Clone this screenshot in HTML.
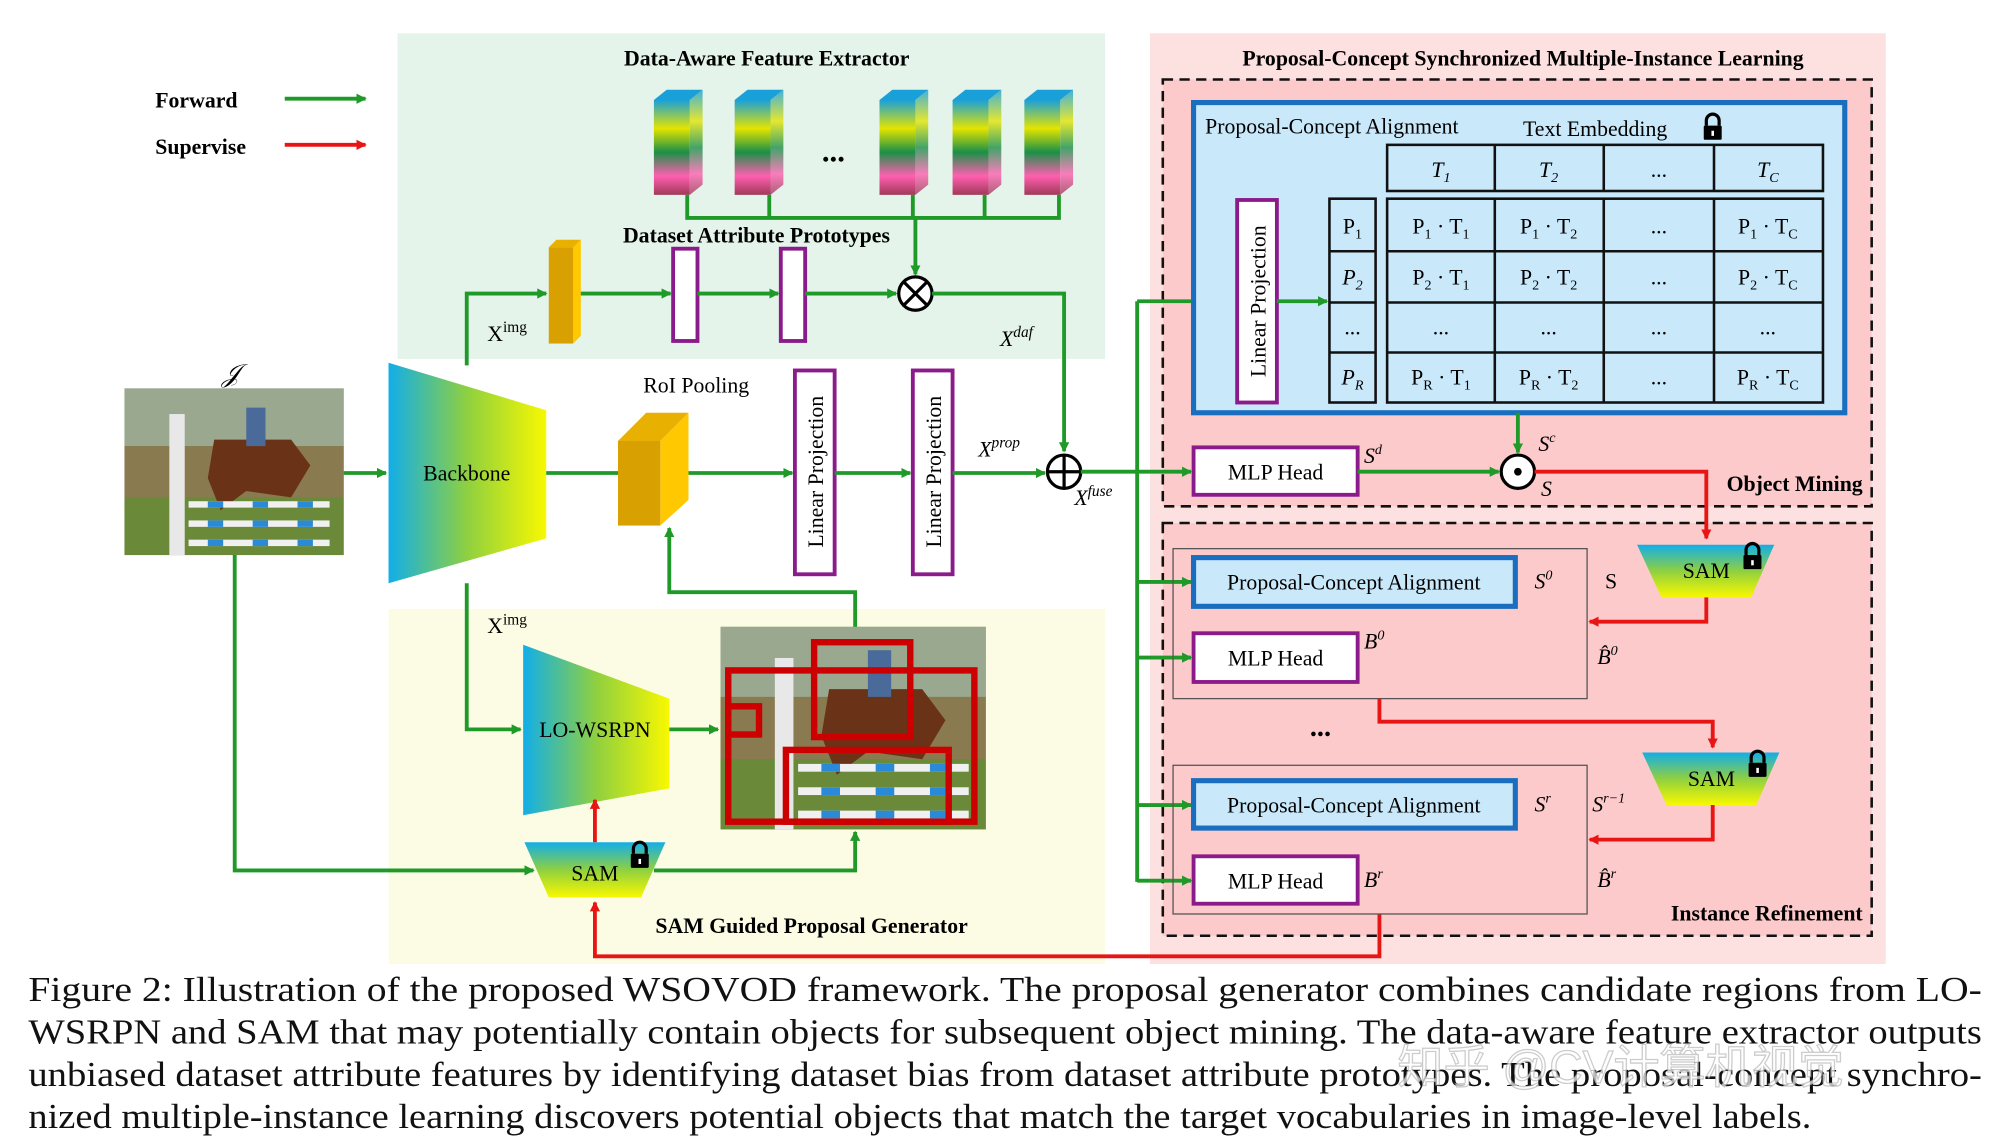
<!DOCTYPE html>
<html><head><meta charset="utf-8"><style>
html,body{margin:0;padding:0;background:#fff;}
svg{display:block;}
text{font-family:"Liberation Serif",serif;}
.b{font-weight:bold;}
</style></head><body>
<svg width="2000" height="1146" viewBox="0 0 1560 894" xmlns="http://www.w3.org/2000/svg">
<defs>
<marker id="ga" markerWidth="8" markerHeight="8" refX="7" refY="4" orient="auto" markerUnits="userSpaceOnUse"><path d="M0,0 L8,4 L0,8 z" fill="#1f9a28"/></marker>
<marker id="ra" markerWidth="8" markerHeight="8" refX="7" refY="4" orient="auto" markerUnits="userSpaceOnUse"><path d="M0,0 L8,4 L0,8 z" fill="#e81515"/></marker>
<linearGradient id="hg" x1="0" y1="0" x2="1" y2="0"><stop offset="0" stop-color="#12aee8"/><stop offset="0.5" stop-color="#8fd040"/><stop offset="1" stop-color="#f8f800"/></linearGradient>
<linearGradient id="vg" x1="0" y1="0" x2="0" y2="1"><stop offset="0" stop-color="#12aee8"/><stop offset="0.5" stop-color="#8fd040"/><stop offset="1" stop-color="#f8f800"/></linearGradient>
<linearGradient id="cg" x1="0" y1="0" x2="0" y2="1"><stop offset="0" stop-color="#1aa0d8"/><stop offset="0.3" stop-color="#e4e400"/><stop offset="0.55" stop-color="#1a9048"/><stop offset="0.8" stop-color="#ff5fb0"/><stop offset="1" stop-color="#a03a5a"/></linearGradient>
<g id="lock"><path d="M-5,-2 v-4 a5,5 0 0 1 10,0 v4" fill="none" stroke="#000" stroke-width="2.5"/><rect x="-7" y="-2" width="14" height="11" rx="1" fill="#000"/><rect x="-1" y="2" width="2" height="4" fill="#fff"/></g>
<g id="photo">
<rect x="0" y="0" width="171" height="130" fill="#6e8a4a"/>
<rect x="0" y="0" width="171" height="45" fill="#9aa890"/>
<rect x="0" y="45" width="171" height="40" fill="#8a7a50"/>
<rect x="0" y="85" width="171" height="45" fill="#6a8a3a"/>
<rect x="35" y="20" width="12" height="110" fill="#e8e8e8"/>
<path d="M70,40 L130,40 L145,60 L130,85 L95,80 L75,95 L65,70 z" fill="#6a3318"/>
<rect x="95" y="15" width="15" height="30" fill="#4a6a9a"/>
<rect x="50" y="88" width="110" height="5" fill="#f0f0f0"/><rect x="65" y="88" width="12" height="5" fill="#2a8ad8"/><rect x="100" y="88" width="12" height="5" fill="#2a8ad8"/><rect x="135" y="88" width="12" height="5" fill="#2a8ad8"/>
<rect x="50" y="103" width="110" height="5" fill="#f0f0f0"/><rect x="65" y="103" width="12" height="5" fill="#2a8ad8"/><rect x="100" y="103" width="12" height="5" fill="#2a8ad8"/><rect x="135" y="103" width="12" height="5" fill="#2a8ad8"/>
<rect x="50" y="118" width="110" height="5" fill="#f0f0f0"/><rect x="65" y="118" width="12" height="5" fill="#2a8ad8"/><rect x="100" y="118" width="12" height="5" fill="#2a8ad8"/><rect x="135" y="118" width="12" height="5" fill="#2a8ad8"/>
</g>
</defs>

<rect x="310" y="26" width="552" height="254" fill="#e4f4ea"/>
<rect x="303" y="475" width="559" height="277" fill="#fcfce4"/>
<rect x="897" y="26" width="574" height="726" fill="#fde0e0"/>
<rect x="907" y="62" width="553" height="333" fill="#fccaca" stroke="#111" stroke-width="2" stroke-dasharray="8,5"/>
<rect x="907" y="408" width="553" height="322" fill="#fccaca" stroke="#111" stroke-width="2" stroke-dasharray="8,5"/>

<text x="121" y="84" font-size="17" class="b">Forward</text>
<line x1="222" y1="77" x2="285" y2="77" stroke="#1f9a28" stroke-width="3" marker-end="url(#ga)"/>
<text x="121" y="120" font-size="17" class="b">Supervise</text>
<line x1="222" y1="113" x2="285" y2="113" stroke="#e81515" stroke-width="3" marker-end="url(#ra)"/>

<text x="598" y="51" font-size="17" class="b" text-anchor="middle">Data-Aware Feature Extractor</text>
<text x="1188" y="51" font-size="17" class="b" text-anchor="middle">Proposal-Concept Synchronized Multiple-Instance Learning</text>

<g>
<g transform="translate(510,0)"><path d="M0,78 L10,70 L38,70 L28,78z" fill="#1aa0d8"/><path d="M28,78 L38,70 L38,144 L28,152z" fill="url(#cg)" opacity="0.8"/><rect x="0" y="78" width="28" height="74" fill="url(#cg)"/></g>
<g transform="translate(573,0)"><path d="M0,78 L10,70 L38,70 L28,78z" fill="#1aa0d8"/><path d="M28,78 L38,70 L38,144 L28,152z" fill="url(#cg)" opacity="0.8"/><rect x="0" y="78" width="28" height="74" fill="url(#cg)"/></g>
<g transform="translate(686,0)"><path d="M0,78 L10,70 L38,70 L28,78z" fill="#1aa0d8"/><path d="M28,78 L38,70 L38,144 L28,152z" fill="url(#cg)" opacity="0.8"/><rect x="0" y="78" width="28" height="74" fill="url(#cg)"/></g>
<g transform="translate(743,0)"><path d="M0,78 L10,70 L38,70 L28,78z" fill="#1aa0d8"/><path d="M28,78 L38,70 L38,144 L28,152z" fill="url(#cg)" opacity="0.8"/><rect x="0" y="78" width="28" height="74" fill="url(#cg)"/></g>
<g transform="translate(799,0)"><path d="M0,78 L10,70 L38,70 L28,78z" fill="#1aa0d8"/><path d="M28,78 L38,70 L38,144 L28,152z" fill="url(#cg)" opacity="0.8"/><rect x="0" y="78" width="28" height="74" fill="url(#cg)"/></g>
</g>
<text x="650" y="126" font-size="24" class="b" text-anchor="middle">...</text>
<path d="M536,152 V170 H826 V152 M600,152 V170 M712,152 V170 M768,152 V170" fill="none" stroke="#1f9a28" stroke-width="3"/>
<line x1="714" y1="170" x2="714" y2="214" stroke="#1f9a28" stroke-width="3" marker-end="url(#ga)"/>
<text x="590" y="189" font-size="17" class="b" text-anchor="middle">Dataset Attribute Prototypes</text>

<path d="M428,193 L434,187 L453,187 L447,193z" fill="#e8b000"/>
<path d="M447,193 L453,187 L453,262 L447,268z" fill="#ffc800"/>
<rect x="428" y="193" width="19" height="75" fill="#d8a000"/>
<path d="M364,285 V229 H426" fill="none" stroke="#1f9a28" stroke-width="3" marker-end="url(#ga)"/>
<text x="380" y="266" font-size="17">X<tspan font-size="12" dy="-7">img</tspan></text>
<line x1="453" y1="229" x2="523" y2="229" stroke="#1f9a28" stroke-width="3" marker-end="url(#ga)"/>
<rect x="525" y="194" width="19" height="72" fill="#fff" stroke="#8b1a8b" stroke-width="3"/>
<line x1="544" y1="229" x2="607" y2="229" stroke="#1f9a28" stroke-width="3" marker-end="url(#ga)"/>
<rect x="609" y="194" width="19" height="72" fill="#fff" stroke="#8b1a8b" stroke-width="3"/>
<line x1="628" y1="229" x2="699" y2="229" stroke="#1f9a28" stroke-width="3" marker-end="url(#ga)"/>
<circle cx="714" cy="229" r="13" fill="#fff" stroke="#000" stroke-width="2.5"/>
<path d="M705,220 L723,238 M723,220 L705,238" stroke="#000" stroke-width="2.5"/>
<path d="M727,229 H830 V352" fill="none" stroke="#1f9a28" stroke-width="3" marker-end="url(#ga)"/>
<text x="780" y="270" font-size="17" font-style="italic">X<tspan font-size="12" dy="-7">daf</tspan></text>

<text x="180" y="298" font-size="20" font-style="italic" text-anchor="middle">𝒥</text>
<use href="#photo" x="97" y="303"/>
<line x1="268" y1="369" x2="301" y2="369" stroke="#1f9a28" stroke-width="3" marker-end="url(#ga)"/>
<path d="M303,283 L426,320 L426,420 L303,455z" fill="url(#hg)"/>
<text x="364" y="375" font-size="17" text-anchor="middle">Backbone</text>
<line x1="426" y1="369" x2="482" y2="369" stroke="#1f9a28" stroke-width="3"/>
<text x="543" y="306" font-size="17" text-anchor="middle">RoI Pooling</text>
<path d="M482,344 L504,322 L537,322 L515,344z" fill="#e8b000"/>
<path d="M515,344 L537,322 L537,390 L515,410z" fill="#ffc800"/>
<rect x="482" y="344" width="33" height="66" fill="#d8a000"/>
<line x1="537" y1="369" x2="618" y2="369" stroke="#1f9a28" stroke-width="3" marker-end="url(#ga)"/>
<rect x="620" y="289" width="31" height="159" fill="#fff" stroke="#8b1a8b" stroke-width="3"/>
<text transform="translate(642,368) rotate(-90)" font-size="17" text-anchor="middle">Linear Projection</text>
<line x1="651" y1="369" x2="710" y2="369" stroke="#1f9a28" stroke-width="3" marker-end="url(#ga)"/>
<rect x="712" y="289" width="31" height="159" fill="#fff" stroke="#8b1a8b" stroke-width="3"/>
<text transform="translate(734,368) rotate(-90)" font-size="17" text-anchor="middle">Linear Projection</text>
<line x1="743" y1="369" x2="815" y2="369" stroke="#1f9a28" stroke-width="3" marker-end="url(#ga)"/>
<text x="763" y="356" font-size="17" font-style="italic">X<tspan font-size="12" dy="-7">prop</tspan></text>
<circle cx="830" cy="368" r="13" fill="#fff" stroke="#000" stroke-width="2.5"/>
<path d="M817,368 H843 M830,355 V381" stroke="#000" stroke-width="2.5"/>
<text x="838" y="394" font-size="17" font-style="italic">X<tspan font-size="12" dy="-7">fuse</tspan></text>
<line x1="843" y1="368" x2="929" y2="368" stroke="#1f9a28" stroke-width="3" marker-end="url(#ga)"/>
<line x1="887" y1="235" x2="887" y2="688" stroke="#1f9a28" stroke-width="3"/>
<line x1="887" y1="235" x2="963" y2="235" stroke="#1f9a28" stroke-width="3" marker-end="url(#ga)"/>
<line x1="887" y1="454" x2="929" y2="454" stroke="#1f9a28" stroke-width="3" marker-end="url(#ga)"/>
<line x1="887" y1="513" x2="929" y2="513" stroke="#1f9a28" stroke-width="3" marker-end="url(#ga)"/>
<line x1="887" y1="628" x2="929" y2="628" stroke="#1f9a28" stroke-width="3" marker-end="url(#ga)"/>
<line x1="887" y1="687" x2="929" y2="687" stroke="#1f9a28" stroke-width="3" marker-end="url(#ga)"/>

<path d="M364,455 V569 H406" fill="none" stroke="#1f9a28" stroke-width="3" marker-end="url(#ga)"/>
<text x="380" y="494" font-size="17">X<tspan font-size="12" dy="-7">img</tspan></text>
<path d="M408,503 L522,545 L522,615 L408,636z" fill="url(#hg)"/>
<text x="464" y="575" font-size="17" text-anchor="middle">LO-WSRPN</text>
<line x1="522" y1="569" x2="560" y2="569" stroke="#1f9a28" stroke-width="3" marker-end="url(#ga)"/>
<g transform="translate(562,489) scale(1.21,1.215)"><use href="#photo"/></g>
<g fill="none" stroke="#cc0000" stroke-width="5">
<rect x="568" y="523" width="192" height="118"/>
<rect x="635" y="501" width="75" height="74"/>
<rect x="613" y="585" width="127" height="56"/>
<rect x="568" y="551" width="24" height="22"/>
</g>
<path d="M667,489 V462 H522 V412" fill="none" stroke="#1f9a28" stroke-width="3" marker-end="url(#ga)"/>
<path d="M183,433 V679 H416" fill="none" stroke="#1f9a28" stroke-width="3" marker-end="url(#ga)"/>
<path d="M409,657 L519,657 L500,700 L428,700z" fill="url(#vg)"/>
<text x="464" y="687" font-size="17" text-anchor="middle">SAM</text>
<use href="#lock" x="499" y="668"/>
<path d="M510,679 H667 V649" fill="none" stroke="#1f9a28" stroke-width="3" marker-end="url(#ga)"/>
<line x1="464" y1="657" x2="464" y2="624" stroke="#e81515" stroke-width="3" marker-end="url(#ra)"/>
<path d="M1076,713 V746 H464 V704" fill="none" stroke="#e81515" stroke-width="3" marker-end="url(#ra)"/>
<text x="633" y="728" font-size="17" class="b" text-anchor="middle">SAM Guided Proposal Generator</text>

<rect x="931" y="80" width="508" height="242" fill="#c9e9fb" stroke="#1a6ec0" stroke-width="4"/>
<text x="940" y="104" font-size="17">Proposal-Concept Alignment</text>
<text x="1188" y="106" font-size="17">Text Embedding</text>
<use href="#lock" x="1336" y="100"/>
<g stroke="#111" stroke-width="2" fill="none">
<rect x="1082" y="113" width="340" height="36"/>
<path d="M1166,113 V149 M1251,113 V149 M1337,113 V149"/>
<rect x="1082" y="155" width="340" height="159"/>
<path d="M1166,155 V314 M1251,155 V314 M1337,155 V314 M1082,196 H1422 M1082,236 H1422 M1082,275 H1422"/>
<rect x="1037" y="155" width="36" height="159"/>
<path d="M1037,196 H1073 M1037,236 H1073 M1037,275 H1073"/>
</g>
<g font-size="17" text-anchor="middle">
<text x="1124" y="138" font-style="italic">T<tspan font-size="11" dy="4">1</tspan></text>
<text x="1208" y="138" font-style="italic">T<tspan font-size="11" dy="4">2</tspan></text>
<text x="1294" y="138">...</text>
<text x="1379" y="138" font-style="italic">T<tspan font-size="11" dy="4">C</tspan></text>
<text x="1055" y="182">P<tspan font-size="11" dy="4">1</tspan></text>
<text x="1055" y="222" font-style="italic">P<tspan font-size="11" dy="4">2</tspan></text>
<text x="1055" y="261">...</text>
<text x="1055" y="300" font-style="italic">P<tspan font-size="11" dy="4">R</tspan></text>
<text x="1124" y="182">P<tspan font-size="11" dy="4">1</tspan><tspan dy="-4"> · T</tspan><tspan font-size="11" dy="4">1</tspan></text>
<text x="1208" y="182">P<tspan font-size="11" dy="4">1</tspan><tspan dy="-4"> · T</tspan><tspan font-size="11" dy="4">2</tspan></text>
<text x="1294" y="182">...</text>
<text x="1379" y="182">P<tspan font-size="11" dy="4">1</tspan><tspan dy="-4"> · T</tspan><tspan font-size="11" dy="4">C</tspan></text>
<text x="1124" y="222">P<tspan font-size="11" dy="4">2</tspan><tspan dy="-4"> · T</tspan><tspan font-size="11" dy="4">1</tspan></text>
<text x="1208" y="222">P<tspan font-size="11" dy="4">2</tspan><tspan dy="-4"> · T</tspan><tspan font-size="11" dy="4">2</tspan></text>
<text x="1294" y="222">...</text>
<text x="1379" y="222">P<tspan font-size="11" dy="4">2</tspan><tspan dy="-4"> · T</tspan><tspan font-size="11" dy="4">C</tspan></text>
<text x="1124" y="261">...</text><text x="1208" y="261">...</text><text x="1294" y="261">...</text><text x="1379" y="261">...</text>
<text x="1124" y="300">P<tspan font-size="11" dy="4">R</tspan><tspan dy="-4"> · T</tspan><tspan font-size="11" dy="4">1</tspan></text>
<text x="1208" y="300">P<tspan font-size="11" dy="4">R</tspan><tspan dy="-4"> · T</tspan><tspan font-size="11" dy="4">2</tspan></text>
<text x="1294" y="300">...</text>
<text x="1379" y="300">P<tspan font-size="11" dy="4">R</tspan><tspan dy="-4"> · T</tspan><tspan font-size="11" dy="4">C</tspan></text>
</g>
<rect x="965" y="156" width="31" height="158" fill="#fff" stroke="#8b1a8b" stroke-width="3"/>
<text transform="translate(987,235) rotate(-90)" font-size="17" text-anchor="middle">Linear Projection</text>
<line x1="996" y1="235" x2="1035" y2="235" stroke="#1f9a28" stroke-width="3" marker-end="url(#ga)"/>
<line x1="1184" y1="322" x2="1184" y2="353" stroke="#1f9a28" stroke-width="3" marker-end="url(#ga)"/>
<text x="1200" y="352" font-size="17" font-style="italic">S<tspan font-size="11" dy="-7">c</tspan></text>
<rect x="931" y="349" width="128" height="37" fill="#fff" stroke="#8b1a8b" stroke-width="3"/>
<text x="995" y="374" font-size="17" text-anchor="middle">MLP Head</text>
<text x="1064" y="361" font-size="17" font-style="italic">S<tspan font-size="11" dy="-7">d</tspan></text>
<line x1="1059" y1="368" x2="1169" y2="368" stroke="#1f9a28" stroke-width="3" marker-end="url(#ga)"/>
<circle cx="1184" cy="368" r="13" fill="#fff" stroke="#000" stroke-width="2.5"/>
<circle cx="1184" cy="368" r="3" fill="#000"/>
<text x="1202" y="387" font-size="17" font-style="italic">S</text>
<path d="M1197,368 H1331 V420" fill="none" stroke="#e81515" stroke-width="3" marker-end="url(#ra)"/>
<text x="1453" y="383" font-size="17" class="b" text-anchor="end">Object Mining</text>

<rect x="915" y="428" width="323" height="117" fill="none" stroke="#555" stroke-width="1"/>
<rect x="931" y="435" width="251" height="38" fill="#c9e9fb" stroke="#1a6ec0" stroke-width="4"/>
<text x="1056" y="460" font-size="17" text-anchor="middle">Proposal-Concept Alignment</text>
<text x="1197" y="459" font-size="17" font-style="italic">S<tspan font-size="11" dy="-7">0</tspan></text>
<rect x="931" y="494" width="128" height="38" fill="#fff" stroke="#8b1a8b" stroke-width="3"/>
<text x="995" y="519" font-size="17" text-anchor="middle">MLP Head</text>
<text x="1064" y="506" font-size="17" font-style="italic">B<tspan font-size="11" dy="-7">0</tspan></text>
<text x="1252" y="459" font-size="17">S</text>
<text x="1246" y="518" font-size="17" font-style="italic">B̂<tspan font-size="11" dy="-7">0</tspan></text>
<path d="M1277,425 L1384,425 L1366,466 L1296,466z" fill="url(#vg)"/>
<text x="1331" y="451" font-size="17" text-anchor="middle">SAM</text>
<use href="#lock" x="1367" y="435"/>
<path d="M1331,466 V485 H1240" fill="none" stroke="#e81515" stroke-width="3" marker-end="url(#ra)"/>
<path d="M1076,545 V563 H1336 V583" fill="none" stroke="#e81515" stroke-width="3" marker-end="url(#ra)"/>
<text x="1030" y="574" font-size="22" class="b" text-anchor="middle">...</text>
<path d="M1281,587 L1388,587 L1370,628 L1300,628z" fill="url(#vg)"/>
<text x="1335" y="613" font-size="17" text-anchor="middle">SAM</text>
<use href="#lock" x="1371" y="597"/>
<path d="M1336,628 V655 H1240" fill="none" stroke="#e81515" stroke-width="3" marker-end="url(#ra)"/>
<rect x="915" y="597" width="323" height="116" fill="none" stroke="#555" stroke-width="1"/>
<rect x="931" y="609" width="251" height="37" fill="#c9e9fb" stroke="#1a6ec0" stroke-width="4"/>
<text x="1056" y="634" font-size="17" text-anchor="middle">Proposal-Concept Alignment</text>
<text x="1197" y="633" font-size="17" font-style="italic">S<tspan font-size="11" dy="-7">r</tspan></text>
<text x="1242" y="633" font-size="17" font-style="italic">S<tspan font-size="11" dy="-7">r−1</tspan></text>
<rect x="931" y="668" width="128" height="37" fill="#fff" stroke="#8b1a8b" stroke-width="3"/>
<text x="995" y="693" font-size="17" text-anchor="middle">MLP Head</text>
<text x="1064" y="692" font-size="17" font-style="italic">B<tspan font-size="11" dy="-7">r</tspan></text>
<text x="1246" y="692" font-size="17" font-style="italic">B̂<tspan font-size="11" dy="-7">r</tspan></text>
<text x="1453" y="718" font-size="17" class="b" text-anchor="end">Instance Refinement</text>

<g font-size="27" fill="#111">
<text x="22" y="781" textLength="1524" lengthAdjust="spacingAndGlyphs">Figure 2: Illustration of the proposed WSOVOD framework. The proposal generator combines candidate regions from LO-</text>
<text x="22" y="814" textLength="1524" lengthAdjust="spacingAndGlyphs">WSRPN and SAM that may potentially contain objects for subsequent object mining. The data-aware feature extractor outputs</text>
<text x="22" y="847" textLength="1524" lengthAdjust="spacingAndGlyphs">unbiased dataset attribute features by identifying dataset bias from dataset attribute prototypes. The proposal-concept synchro-</text>
<text x="22" y="880" textLength="1391" lengthAdjust="spacingAndGlyphs">nized multiple-instance learning discovers potential objects that match the target vocabularies in image-level labels.</text>
</g>
<text x="1090" y="845" font-size="36" fill="#ffffff" fill-opacity="0.7" stroke="#999" stroke-opacity="0.5" stroke-width="1" style="font-family:'Liberation Sans','Noto Sans CJK SC',sans-serif">知乎 @CV计算机视觉</text>
</svg>
</body></html>
